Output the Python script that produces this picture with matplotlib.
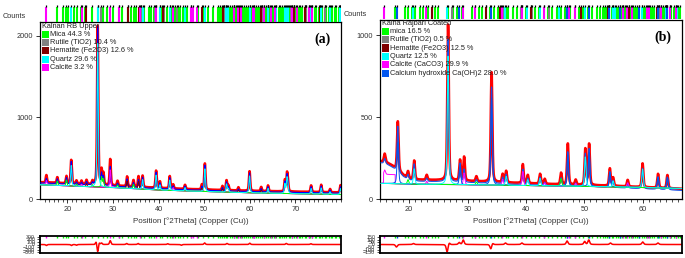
import numpy as np
import matplotlib
matplotlib.use("Agg")
import matplotlib.pyplot as plt
from matplotlib.patches import Rectangle

plt.rcParams['font.family'] = ['Liberation Sans', 'DejaVu Sans']

W, H = 685, 258

# ---------------- panel (a): Kalnan RB Upper ----------------
a_range = (14.0, 80.0)
a_bg_x = [14, 17, 20, 25, 30, 35, 40, 50, 60, 70, 80]
a_bg_obs = [205, 200, 190, 180, 165, 150, 135, 115, 100, 90, 80]
a_bg_base = [175, 168, 160, 150, 140, 125, 110, 92, 76, 65, 55]

a_pk_pos = [15.4, 17.8, 19.8, 20.85, 22.0, 23.1, 24.2, 25.5, 26.65, 27.5, 27.9, 29.4, 31.0,
            33.1, 34.5, 35.6, 36.5, 39.45, 40.3, 42.45, 43.2, 45.8, 49.5, 50.15, 54.0, 54.9,
            55.3, 57.5, 59.95, 62.5, 64.0, 67.7, 68.15, 68.35, 73.45, 75.65, 77.6, 79.9]
a_pk_obs = [90, 70, 90, 290, 40, 40, 50, 40, 1950, 180, 140, 320, 60,
            120, 80, 130, 140, 210, 80, 150, 50, 50, 60, 320, 50, 120,
            60, 40, 240, 50, 70, 140, 200, 110, 80, 90, 40, 90]
a_pk_calc = [60, 60, 80, 280, 30, 30, 40, 30, 1960, 140, 110, 240, 40,
             100, 60, 100, 130, 200, 70, 140, 40, 45, 45, 310, 40, 110,
             50, 30, 230, 40, 65, 130, 190, 100, 75, 85, 35, 80]
a_pk_phase = ['calcite', 'mica', 'mica', 'quartz', 'mica', 'calcite', 'hematite', 'mica',
              'quartz', 'mica', 'mica', 'calcite', 'mica', 'hematite', 'mica', 'hematite',
              'quartz', 'quartz', 'quartz', 'quartz', 'calcite', 'quartz', 'hematite',
              'quartz', 'hematite', 'quartz', 'quartz', 'hematite', 'quartz', 'hematite',
              'quartz', 'quartz', 'quartz', 'quartz', 'quartz', 'quartz', 'quartz', 'quartz']

a_res_pos = [15.4, 20.9, 22.0, 26.3, 26.65, 27.0, 27.5, 29.4, 33.0, 35.5, 42.0, 45.0, 50.1,
             55.0, 60.0, 68.0, 73.4]
a_res_amp = [-40, -40, -30, 120, -300, 80, 60, 150, 40, 40, 30, -30, 60, 40, 50, 40, 30]

a_mica = [17.8, 19.1, 19.8, 20.1, 21.4, 22.1, 22.9, 23.8, 25.4, 26.8, 27.9, 28.8, 29.9, 31.3,
          32.0, 33.4, 34.0, 34.6, 35.0, 36.1, 36.8, 37.8, 38.3, 39.1, 40.3, 40.8, 41.8, 42.4,
          43.0, 43.5, 44.2, 44.8, 45.4, 46.2, 47.0, 48.6, 49.8, 50.9, 51.9, 53.0, 53.4, 53.9,
          54.4, 54.8, 55.1, 55.7, 56.1, 56.6, 57.0, 57.3, 57.9, 58.3, 58.7, 59.2, 59.7, 60.1,
          60.4, 61.0, 61.4, 61.7, 62.3, 62.7, 63.1, 63.6, 64.1, 64.5, 64.8, 65.4, 65.8, 66.3,
          66.7, 67.0, 67.6, 68.0, 68.5, 68.9, 69.2, 69.8, 70.2, 70.7, 71.1, 71.4, 72.0, 72.4,
          72.9, 73.3, 73.6, 74.2, 74.6, 75.1, 75.5, 75.8, 76.4, 76.8, 77.3, 77.7, 78.0, 78.6,
          79.0, 79.5, 79.8]
a_calcite = [15.4, 23.1, 29.4, 31.4, 36.0, 39.4, 43.2, 47.1, 47.5, 48.5, 56.6, 57.4, 58.1,
             60.7, 61.0, 63.1, 64.7, 65.6, 69.2, 70.3, 72.9, 73.7]
a_quartz = [20.86, 26.64, 36.54, 39.47, 40.29, 42.45, 45.79, 50.14, 54.87, 55.33, 59.96,
            64.03, 65.79, 67.74, 68.14, 68.32, 73.47, 75.66, 77.67, 79.88]
a_hematite = [24.1, 33.2, 35.6, 40.9, 49.5, 54.1, 57.6, 62.4, 64.0, 69.6, 72.0, 75.4]
a_rutile = [27.4, 36.1, 39.2, 41.2, 44.0, 54.3, 56.6, 62.7, 64.0, 69.0, 69.8, 72.4, 76.5]

a_legend = [('Mica 44.3 %', '#00ff00'), ('Rutile (TiO2) 10.4 %', '#808080'),
            ('Hematite (Fe2O3) 12.6 %', '#800000'), ('Quartz 29.6 %', '#00ffff'),
            ('Calcite 3.2 %', '#ff00ff')]

# ---------------- panel (b): Kalna Rajbari Coated ----------------
b_range = (15.2, 66.7)
b_bg_x = [15.2, 16, 17, 18, 19, 20, 21, 25, 30, 35, 40, 45, 50, 55, 60, 66.7]
b_bg_obs = [230, 225, 205, 175, 145, 125, 118, 115, 110, 102, 96, 90, 85, 80, 72, 62]
b_bg_base = [95, 95, 94, 93, 92, 91, 90, 89, 87, 85, 82, 80, 77, 74, 70, 64]

b_pk_pos = [15.8, 18.05, 19.8, 20.85, 23.0, 26.65, 28.7, 29.4, 31.5, 34.1, 36.0, 36.6, 39.45,
            40.3, 42.4, 43.2, 46.0, 47.15, 48.5, 50.15, 50.8, 54.35, 54.9, 57.4, 59.95, 62.6,
            64.2]
b_pk_obs = [50, 300, 40, 115, 30, 950, 125, 145, 30, 670, 50, 70, 115,
            50, 60, 30, 70, 250, 30, 220, 250, 105, 50, 40, 145, 85, 80]
b_pk_calc = [30, 280, 30, 105, 20, 870, 115, 80, 20, 590, 40, 60, 95,
             40, 50, 20, 50, 210, 20, 200, 230, 95, 40, 30, 125, 75, 75]
b_pk_phase = ['calcite', 'portlandite', 'mica', 'quartz', 'calcite', 'quartz', 'portlandite',
              'calcite', 'mica', 'portlandite', 'calcite', 'quartz', 'calcite', 'quartz',
              'quartz', 'calcite', 'mica', 'portlandite', 'calcite', 'quartz', 'portlandite',
              'portlandite', 'quartz', 'calcite', 'quartz', 'portlandite', 'portlandite']

b_res_pos = [18.0, 20.9, 26.65, 27.0, 28.7, 29.4, 34.1, 34.4, 36.6, 39.4, 47.1, 50.1, 50.8,
             54.5, 60.0, 62.6]
b_res_amp = [-50, 20, -150, 40, 40, 90, -90, 30, 30, 30, 70, 60, 90, 30, 50, 30]

b_mica = [17.8, 19.5, 19.9, 20.7, 21.2, 22.0, 22.6, 23.4, 24.0, 24.6, 25.1, 26.8, 27.7, 28.3,
          29.2, 30.9, 31.4, 32.1, 32.6, 33.2, 33.9, 34.6, 35.3, 35.9, 36.7, 37.1, 37.9, 38.6,
          39.2, 40.1, 40.9, 41.6, 42.3, 43.1, 43.8, 44.5, 45.3, 46.1, 46.8, 47.6, 48.4, 49.2,
          49.9, 50.6, 51.4, 52.2, 52.8, 53.2, 53.6, 53.9, 54.3, 54.7, 55.0, 55.4, 55.8, 56.1,
          56.5, 56.9, 57.2, 57.6, 58.0, 58.3, 58.7, 59.1, 59.4, 59.8, 60.2, 60.5, 60.9, 61.3,
          61.6, 62.0, 62.4, 62.7, 63.1, 63.5, 63.8, 64.2, 64.6, 64.9, 65.3, 65.7, 66.0, 66.4]
b_calcite = [15.8, 23.0, 29.4, 31.4, 36.0, 39.4, 43.2, 47.1, 47.5, 48.5, 56.6, 57.4, 58.1,
             60.7, 61.0, 63.1, 64.7, 65.6]
b_quartz = [20.86, 26.64, 36.54, 39.47, 40.29, 42.45, 45.79, 50.14, 54.87, 55.33, 59.96,
            64.03, 65.79]
b_hematite = [24.1, 33.2, 35.6, 40.9, 49.5, 54.1, 57.6, 62.4, 64.0]
b_rutile = [27.4, 36.1, 39.2, 41.2, 44.0, 54.3, 56.6, 62.7, 64.0]
b_portlandite = [18.09, 28.66, 34.09, 47.12, 50.79, 54.33, 56.2, 59.4, 62.54, 64.2]

b_legend = [('mica 16.5 %', '#00ff00'), ('Rutile (TiO2) 0.5 %', '#808080'),
            ('Hematite (Fe2O3) 12.5 %', '#800000'), ('Quartz 12.5 %', '#00ffff'),
            ('Calcite (CaCO3) 29.9 %', '#ff00ff'),
            ('Calcium hydroxide Ca(OH)2 28.0 %', '#0055ee')]

colors = {'mica': '#00ff00', 'rutile': '#808080', 'hematite': '#800000',
          'quartz': '#00ffff', 'calcite': '#ff00ff', 'portlandite': '#0055ee'}


def peaks(x, pos, amp, w=0.15):
    y = np.zeros_like(x)
    for p, a in zip(pos, amp):
        d = (x - p) / w
        y += a * (0.4 / (1 + d ** 2) + 0.6 * np.exp(-np.log(2) * d ** 2))
    return y


def px_axes(fig, x0, y0, x1, y1):
    return fig.add_axes([x0 / W, 1 - y1 / H, (x1 - x0) / W, (y1 - y0) / H])


def fig_text(fig, x, y, s, **kw):
    fig.text(x / W, 1 - y / H, s, **kw)


fig = plt.figure(figsize=(W / 100, H / 100), dpi=100)
tick_col = '#333333'


def draw_panel(xl, xr, top, rng, bg_x, bg_obs, bg_base, pk_pos, pk_obs, pk_calc, pk_phase,
               res_pos, res_amp, res_lim, res_ticks, sticks, title, legend, tag,
               yticks, ylim, calc_col, leg_y, extra_base=None):
    x = np.linspace(rng[0], rng[1], 4000)
    obs = np.interp(x, bg_x, bg_obs) + peaks(x, pk_pos, pk_obs)
    base = np.interp(x, bg_x, bg_base)
    calc = np.interp(x, bg_x, bg_obs) - 10 + peaks(x, pk_pos, pk_calc)

    ax = px_axes(fig, xl, top, xr, 199)
    ax.plot(x, obs, color='#ff0000', lw=1.9, zorder=2)
    ax.plot(x, calc, color=calc_col, lw=0.8, zorder=3)
    for ph in ['rutile', 'hematite', 'calcite', 'portlandite', 'mica', 'quartz']:
        sel = [i for i, p in enumerate(pk_phase) if p == ph]
        if not sel and ph not in ('rutile', 'hematite'):
            continue
        comp = base + peaks(x, [pk_pos[i] for i in sel], [pk_calc[i] * 0.9 for i in sel])
        if ph == 'calcite' and extra_base is not None:
            comp = comp + np.interp(x, extra_base[0], extra_base[1])
        ax.plot(x, comp, color=colors[ph], lw=0.7, zorder=4)
    ax.set_xlim(rng)
    ax.set_ylim(ylim)
    ax.set_xticks([t for t in [20, 30, 40, 50, 60, 70] if t < rng[1]])
    ax.set_xticks(np.arange(15, int(rng[1]) + 1), minor=True)
    ax.set_yticks(yticks)
    ax.tick_params(axis='both', which='major', direction='out', length=3, width=0.7,
                   labelsize=5.3, colors=tick_col, pad=2)
    ax.tick_params(axis='x', which='minor', direction='out', length=2, width=0.6,
                   colors=tick_col)
    for s in ax.spines.values():
        s.set_linewidth(0.9)
    ax.set_xlabel('Position [°2Theta] (Copper (Cu))', fontsize=5.8, color=tick_col, labelpad=3)
    ax.text(0.965, 0.9, tag, transform=ax.transAxes, ha='right', va='center',
            fontsize=10, fontweight='bold', family='Liberation Serif')

    # legend block
    fig_text(fig, xl + 2, leg_y[0], title, fontsize=5.3, va='center', color='#222222',
             zorder=10)
    for i, (lab, c) in enumerate(legend):
        yy = leg_y[1] + i * leg_y[2]
        fig.add_artist(Rectangle(((xl + 1.5) / W, 1 - (yy + 3.6) / H), 7.5 / W, 7.2 / H,
                                 transform=fig.transFigure, color=c, lw=0))
        fig_text(fig, xl + 10, yy, lab, fontsize=5.3, va='center', color='#222222')

    # stick strip
    st = px_axes(fig, xl, 5, xr, top - 0.5)
    for ph, pos in sticks:
        st.vlines(pos, 0, 0.85, colors=colors[ph], lw=1.5)
    allpos = [p for _, pos in sticks for p in pos]
    st.vlines(allpos, 0.85, 1.0, colors='black', lw=0.9)
    st.set_xlim(rng)
    st.set_ylim(0, 1)
    st.axis('off')

    # residual strip
    rs = px_axes(fig, xl, 236, xr, 253)
    rx = np.linspace(rng[0], rng[1], 4000)
    rs.plot(rx, peaks(rx, res_pos, res_amp, w=0.18), color='#ff0000', lw=1.1)
    topm = [p for ph, pos in sticks if ph in ('mica', 'calcite', 'portlandite') for p in pos]
    tcol = [colors[ph] for ph, pos in sticks if ph in ('mica', 'calcite', 'portlandite')
            for p in pos]
    rs.vlines(topm, res_lim * 0.78, res_lim, colors=tcol, lw=1.0)
    rs.set_xlim(rng)
    rs.set_ylim(-res_lim, res_lim)
    rs.set_xticks([])
    rs.set_yticks(res_ticks)
    rs.tick_params(axis='y', direction='out', length=2.5, width=0.6, labelsize=3.8,
                   colors=tick_col, pad=1)
    for s in rs.spines.values():
        s.set_linewidth(1.3)


draw_panel(40, 341, 22, a_range, a_bg_x, a_bg_obs, a_bg_base, a_pk_pos, a_pk_obs, a_pk_calc,
           a_pk_phase, a_res_pos, a_res_amp, 330, [300, 200, 100, 0, -100, -200, -300],
           [('mica', a_mica), ('rutile', a_rutile), ('hematite', a_hematite),
            ('quartz', a_quartz), ('calcite', a_calcite)],
           'Kalnan RB Upper', a_legend, '(a)', [0, 1000, 2000], (0, 2170), '#0000ff',
           (26.3, 34.3, 8.3))

draw_panel(380, 682, 19.5, b_range, b_bg_x, b_bg_obs, b_bg_base, b_pk_pos, b_pk_obs,
           b_pk_calc, b_pk_phase, b_res_pos, b_res_amp, 170, [150, 100, 50, 0, -50, -100, -150],
           [('mica', b_mica), ('rutile', b_rutile), ('hematite', b_hematite),
            ('quartz', b_quartz), ('calcite', b_calcite), ('portlandite', b_portlandite)],
           'Kalna Rajbari Coated', b_legend, '(b)', [0, 500, 1000], (0, 1095), '#1a4fe6',
           (23.6, 31.2, 8.4),
           extra_base=([15.2, 15.6, 15.61, 17.6, 17.61, 66.7], [0, 0, 55, 55, 0, 0]))

fig_text(fig, 3, 16, 'Counts', fontsize=5.3, va='center', color=tick_col)
fig_text(fig, 344, 14, 'Counts', fontsize=5.3, va='center', color=tick_col)

fig.savefig('out.png', dpi=100)
